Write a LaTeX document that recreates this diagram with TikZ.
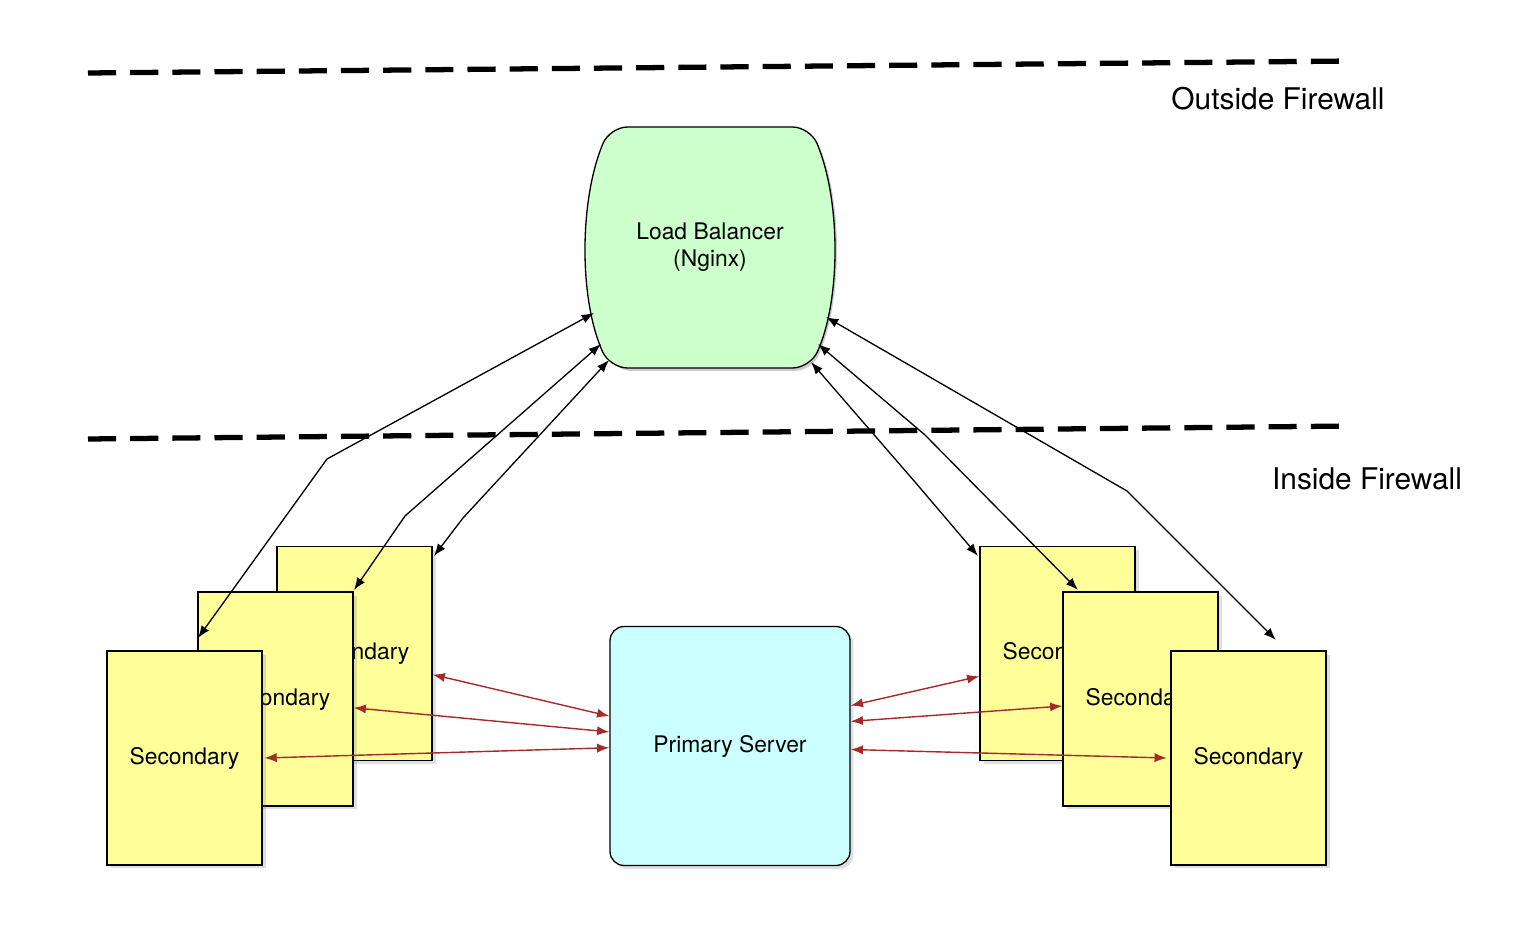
\documentclass[tikz,border=0pt]{standalone}
\usepackage{fontspec}
\setmainfont{TeX Gyre Heros}
\usetikzlibrary{arrows.meta, positioning, shadows}
\definecolor{secfill}{HTML}{FFFF99}
\definecolor{prifill}{HTML}{CCFFFF}
\definecolor{lbfill}{HTML}{CCFFCC}
\definecolor{linkred}{HTML}{A52A2A}

\begin{document}
\begin{tikzpicture}[
		x=0.02cm, y=-0.02cm,
		line width=0.75pt,
		% Define styles
		secondary/.style={
			rectangle,
			draw,
			fill=secfill,
			drop shadow={shadow xshift=2pt, shadow yshift=-2pt, opacity=0.25},
			minimum width=3.1cm,
			minimum height=4.28cm,
			font=\fontsize{13}{15}\selectfont
		},
		primary/.style={
			rectangle,
			draw,
			rounded corners=8pt,
			fill=prifill,
			drop shadow={shadow xshift=2pt, shadow yshift=-2pt, opacity=0.25},
			minimum width=4.8cm,
			minimum height=4.78cm,
			font=\fontsize{13}{15}\selectfont
		},
		zone/.style={font=\fontsize{17}{20}\selectfont},
		firewall/.style={line width=3pt, dash pattern=on 16pt off 8pt},
		% Define arrow styles
		link/.style={{Latex[length=7pt]}-{Latex[length=7pt]}},
		sync/.style={{Latex[length=7pt]}-{Latex[length=7pt]}, linkred, thick}
		]
		
		\useasboundingbox (0,0) rectangle (1532,932);
		
		% ----- Firewall lines -----
		\coordinate (fw1a) at (88,73);
		\coordinate (fw1b) at (1352,61);
		\coordinate (fw2a) at (88,439);
		\coordinate (fw2b) at (1352,426);
		\draw[firewall] (fw1a) -- (fw1b);
		\draw[firewall] (fw2a) -- (fw2b);
		\node[zone] (outside) at (1278,99) {Outside Firewall};
		\node[zone] (inside) at (1367,479) {Inside Firewall};
		
		% ----- Load Balancer -----
		\fill[black, opacity=0.2, rounded corners=10pt] (714,130) -- (812,130) .. controls (843,200) and (843,300) .. (812,371)
			-- (614,371) .. controls (583,300) and (583,200) .. (614,130) -- cycle;
		\draw[fill=lbfill, rounded corners=10pt] (710,127) -- (810,127) .. controls (841,200) and (841,300) .. (810,368)
			-- (610,368) .. controls (579,300) and (579,200) .. (610,127) -- cycle;
		\node[align=center, font=\fontsize{13}{15}\selectfont] (lb) at (710,247) {Load Balancer\\(Nginx)};
		
		% ----- Primary -----
		\node[primary] (primary) at (730,746) {Primary Server};
		
		% ----- Secondaries (left) -----
		\node[secondary] (secA) at (354.5,653.5) {Secondary};
		\node[secondary] (secB) at (275.5,699) {Secondary};
		\node[secondary] (secC) at (184.5,758) {Secondary};
		
		% ----- Secondaries (right) -----
		\node[secondary] (secD) at (1057.5,653.5) {Secondary};
		\node[secondary] (secE) at (1140.5,699) {Secondary};
		\node[secondary] (secF) at (1248.5,758) {Secondary};
		
		% ----- Arrows to the load balancer -----
		\coordinate (lbC) at (594,313);
		\coordinate (lbB) at (601,344);
		\coordinate (lbA) at (609,360);
		\coordinate (lbD) at (811,362);
		\coordinate (lbE) at (818,344);
		\coordinate (lbF) at (826,317);
		\coordinate (bendC) at (327,459);
		\coordinate (bendB) at (405,516);
		\coordinate (bendA) at (463,518);
		\coordinate (bendD) at (915,482);
		\coordinate (bendE) at (925,435);
		\coordinate (bendF) at (1127,491);
		\coordinate (topC) at (198,638);
		\coordinate (topB) at (354,590);
		\coordinate (topA) at (434,556);
		\coordinate (topD) at (978,556);
		\coordinate (topE) at (1078,590);
		\coordinate (topF) at (1276,640);
		\draw[link] (lbC) -- (bendC) -- (topC);
		\draw[link] (lbB) -- (bendB) -- (topB);
		\draw[link] (lbA) -- (bendA) -- (topA);
		\draw[link] (lbD) -- (bendD) -- (topD);
		\draw[link] (lbE) -- (bendE) -- (topE);
		\draw[link] (lbF) -- (bendF) -- (topF);
		
		% ----- Replication arrows -----
		\draw[sync] ([yshift=-12pt]secA.east) -- ([yshift=17pt]primary.west);
		\draw[sync] ([yshift=-5pt]secB.east) -- ([yshift=8pt]primary.west);
		\draw[sync] ([xshift=1pt,yshift=0pt]secC.east) -- ([yshift=-1pt]primary.west);
		\draw[sync] ([yshift=23pt]primary.east) -- ([yshift=-13pt]secD.west);
		\draw[sync] ([yshift=14pt]primary.east) -- ([yshift=-4pt]secE.west);
		\draw[sync] ([yshift=-2pt]primary.east) -- ([xshift=-2pt]secF.west);
		
	\end{tikzpicture}
\end{document}
